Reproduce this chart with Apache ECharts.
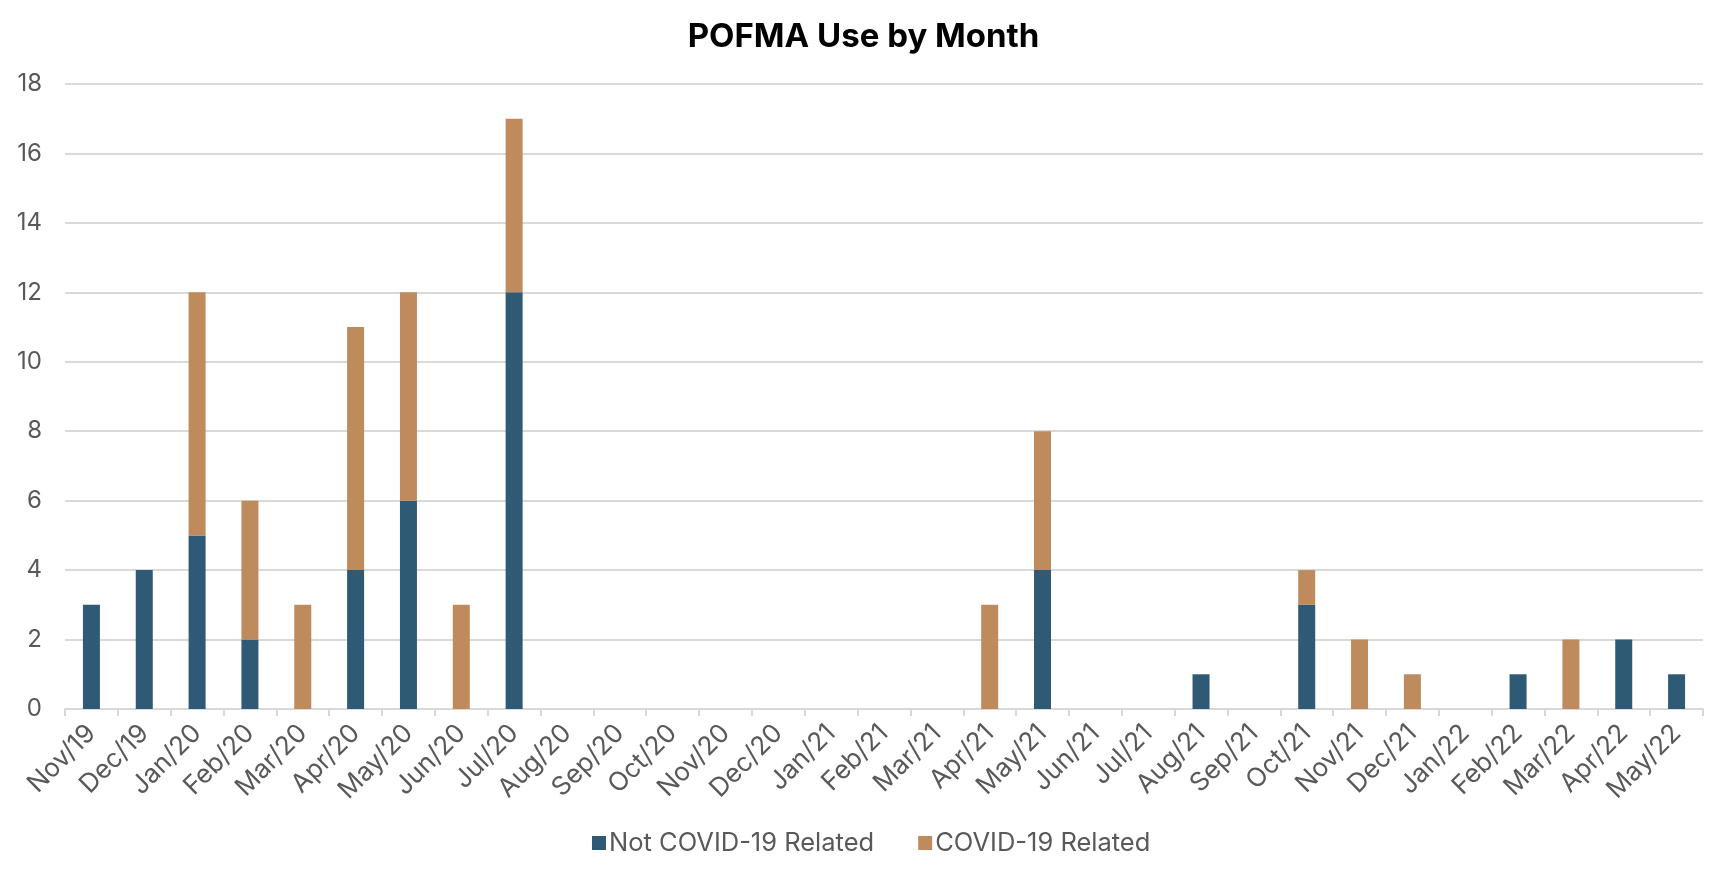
<!DOCTYPE html>
<html>
<head>
<meta charset="utf-8">
<script src="https://cdn.jsdelivr.net/npm/echarts@6/dist/echarts.min.js"></script>
<style>
html,body{margin:0;padding:0;background:#fff;}
#chart{width:1727px;height:879px;}
</style>
</head>
<body>
<div id="chart"></div>
<script>
const categories = ['Nov/19','Dec/19','Jan/20','Feb/20','Mar/20','Apr/20','May/20','Jun/20','Jul/20','Aug/20','Sep/20','Oct/20','Nov/20','Dec/20','Jan/21','Feb/21','Mar/21','Apr/21','May/21','Jun/21','Jul/21','Aug/21','Sep/21','Oct/21','Nov/21','Dec/21','Jan/22','Feb/22','Mar/22','Apr/22','May/22'];
const notCovid = [3,4,5,2,0,4,6,0,12,0,0,0,0,0,0,0,0,0,4,0,0,1,0,3,0,0,0,1,0,2,1];
const covid    = [0,0,7,4,3,7,6,3,5,0,0,0,0,0,0,0,0,3,4,0,0,0,0,1,2,1,0,0,2,0,0];
const yTicks = [0,2,4,6,8,10,12,14,16,18];

const font = 'Inter, "Noto Sans", sans-serif';
const chart = echarts.init(document.getElementById('chart'));
chart.setOption({
  animation: false,
  backgroundColor: '#ffffff',
  title: {
    text: 'POFMA Use by Month',
    left: 'center',
    top: 16,
    textStyle: {fontFamily: font, fontSize: 33, fontWeight: 'bold', color: '#000000'}
  },
  legend: {
    bottom: 18,
    left: 587,
    itemWidth: 14,
    itemHeight: 14,
    itemGap: 44,
    icon: 'rect',
    textStyle: {fontFamily: font, fontSize: 25.5, color: '#595959', padding: [0,0,0,-2]},
    data: ['Not COVID-19 Related','COVID-19 Related']
  },
  grid: {left: 65, right: 24, top: 84, bottom: 170, containLabel: false},
  xAxis: {
    type: 'category',
    data: categories,
    boundaryGap: true,
    axisLine: {lineStyle: {color: '#d9d9d9', width: 2}},
    axisTick: {show: true, alignWithLabel: false, length: 7, lineStyle: {color: '#d9d9d9', width: 2}},
    axisLabel: {rotate: 45, interval: 0, fontFamily: font, fontSize: 26, color: '#595959', margin: 20}
  },
  yAxis: {
    type: 'value',
    min: yTicks[0],
    max: yTicks[yTicks.length-1],
    interval: 2,
    axisLine: {show: false},
    axisTick: {show: false},
    splitLine: {lineStyle: {color: '#d9d9d9', width: 2}},
    axisLabel: {fontFamily: font, fontSize: 24, color: '#595959', margin: 23}
  },
  series: [
    {name: 'Not COVID-19 Related', type: 'bar', stack: 'total', barWidth: 17, data: notCovid,
     itemStyle: {color: '#2E5A75'}},
    {name: 'COVID-19 Related', type: 'bar', stack: 'total', barWidth: 17, data: covid,
     itemStyle: {color: '#BF8B5C'}}
  ]
});
</script>
</body>
</html>
